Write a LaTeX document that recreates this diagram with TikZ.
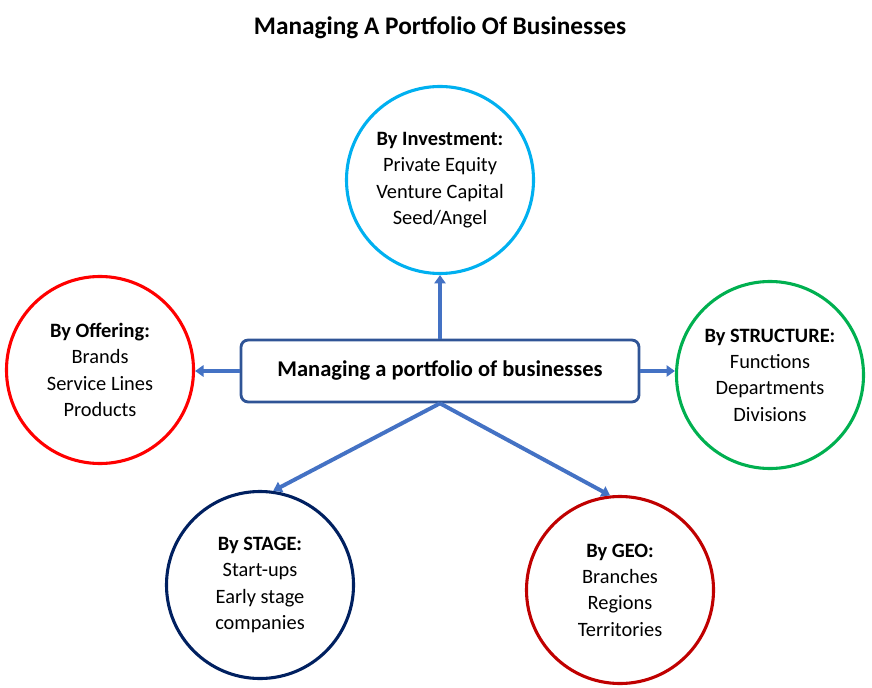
\documentclass[tikz,border=0pt]{standalone}
\usepackage{fontspec}
\setmainfont{Carlito}
\usetikzlibrary{positioning, arrows.meta}

\tikzset{
    topic/.style={draw, circle, line width=2.2pt, minimum size=133pt, align=center,
        font=\fontsize{14.5}{18.7}\selectfont, fill=white},
    flow/.style={-{Triangle[length=6pt,width=8pt]}, line width=2.8pt, draw={rgb,255:red,68;green,114;blue,196}}
}

\begin{document}
\begin{tikzpicture}[x=0.025cm, y=-0.025cm]
    \useasboundingbox (0,0) rectangle (872,688);

    % Title
    \node[font=\fontsize{18}{21}\selectfont\bfseries] (title) at (440, 28) {Managing A Portfolio Of Businesses};

    % Centre
    \node[draw={rgb,255:red,47;green,84;blue,150}, line width=2pt, rounded corners=5pt,
          minimum width=283pt, minimum height=44pt, font=\fontsize{16}{19}\selectfont\bfseries]
          (hub) at (440, 371) {Managing a portfolio of businesses};

    % Topics
    \node[topic, draw={rgb,255:red,0;green,176;blue,240}] (invest) at (440, 180)
        {\textbf{By Investment:}\\Private Equity\\Venture Capital\\Seed/Angel};
    \node[topic, draw=red] (offer) at (100, 370)
        {\textbf{By Offering:}\\Brands\\Service Lines\\Products};
    \node[topic, draw={rgb,255:red,0;green,176;blue,80}] (struct) at (770, 375)
        {\textbf{By STRUCTURE:}\\Functions\\Departments\\Divisions};
    \node[topic, draw={rgb,255:red,0;green,32;blue,96}] (stage) at (260, 585)
        {\textbf{By STAGE:}\\Start-ups\\Early stage\\companies};
    \node[topic, draw={rgb,255:red,192;green,0;blue,0}] (geo) at (620, 590)
        {\textbf{By GEO:}\\Branches\\Regions\\Territories};

    % Connections
    \draw[flow] (hub.north) -- (invest.south);
    \draw[flow] (hub.west) -- (offer.east |- hub.west);
    \draw[flow] (hub.east) -- (struct.west |- hub.east);
    \draw[flow] (hub.south) -- (stage.82);
    \draw[flow] (hub.south) -- (geo.96);
\end{tikzpicture}
\end{document}
